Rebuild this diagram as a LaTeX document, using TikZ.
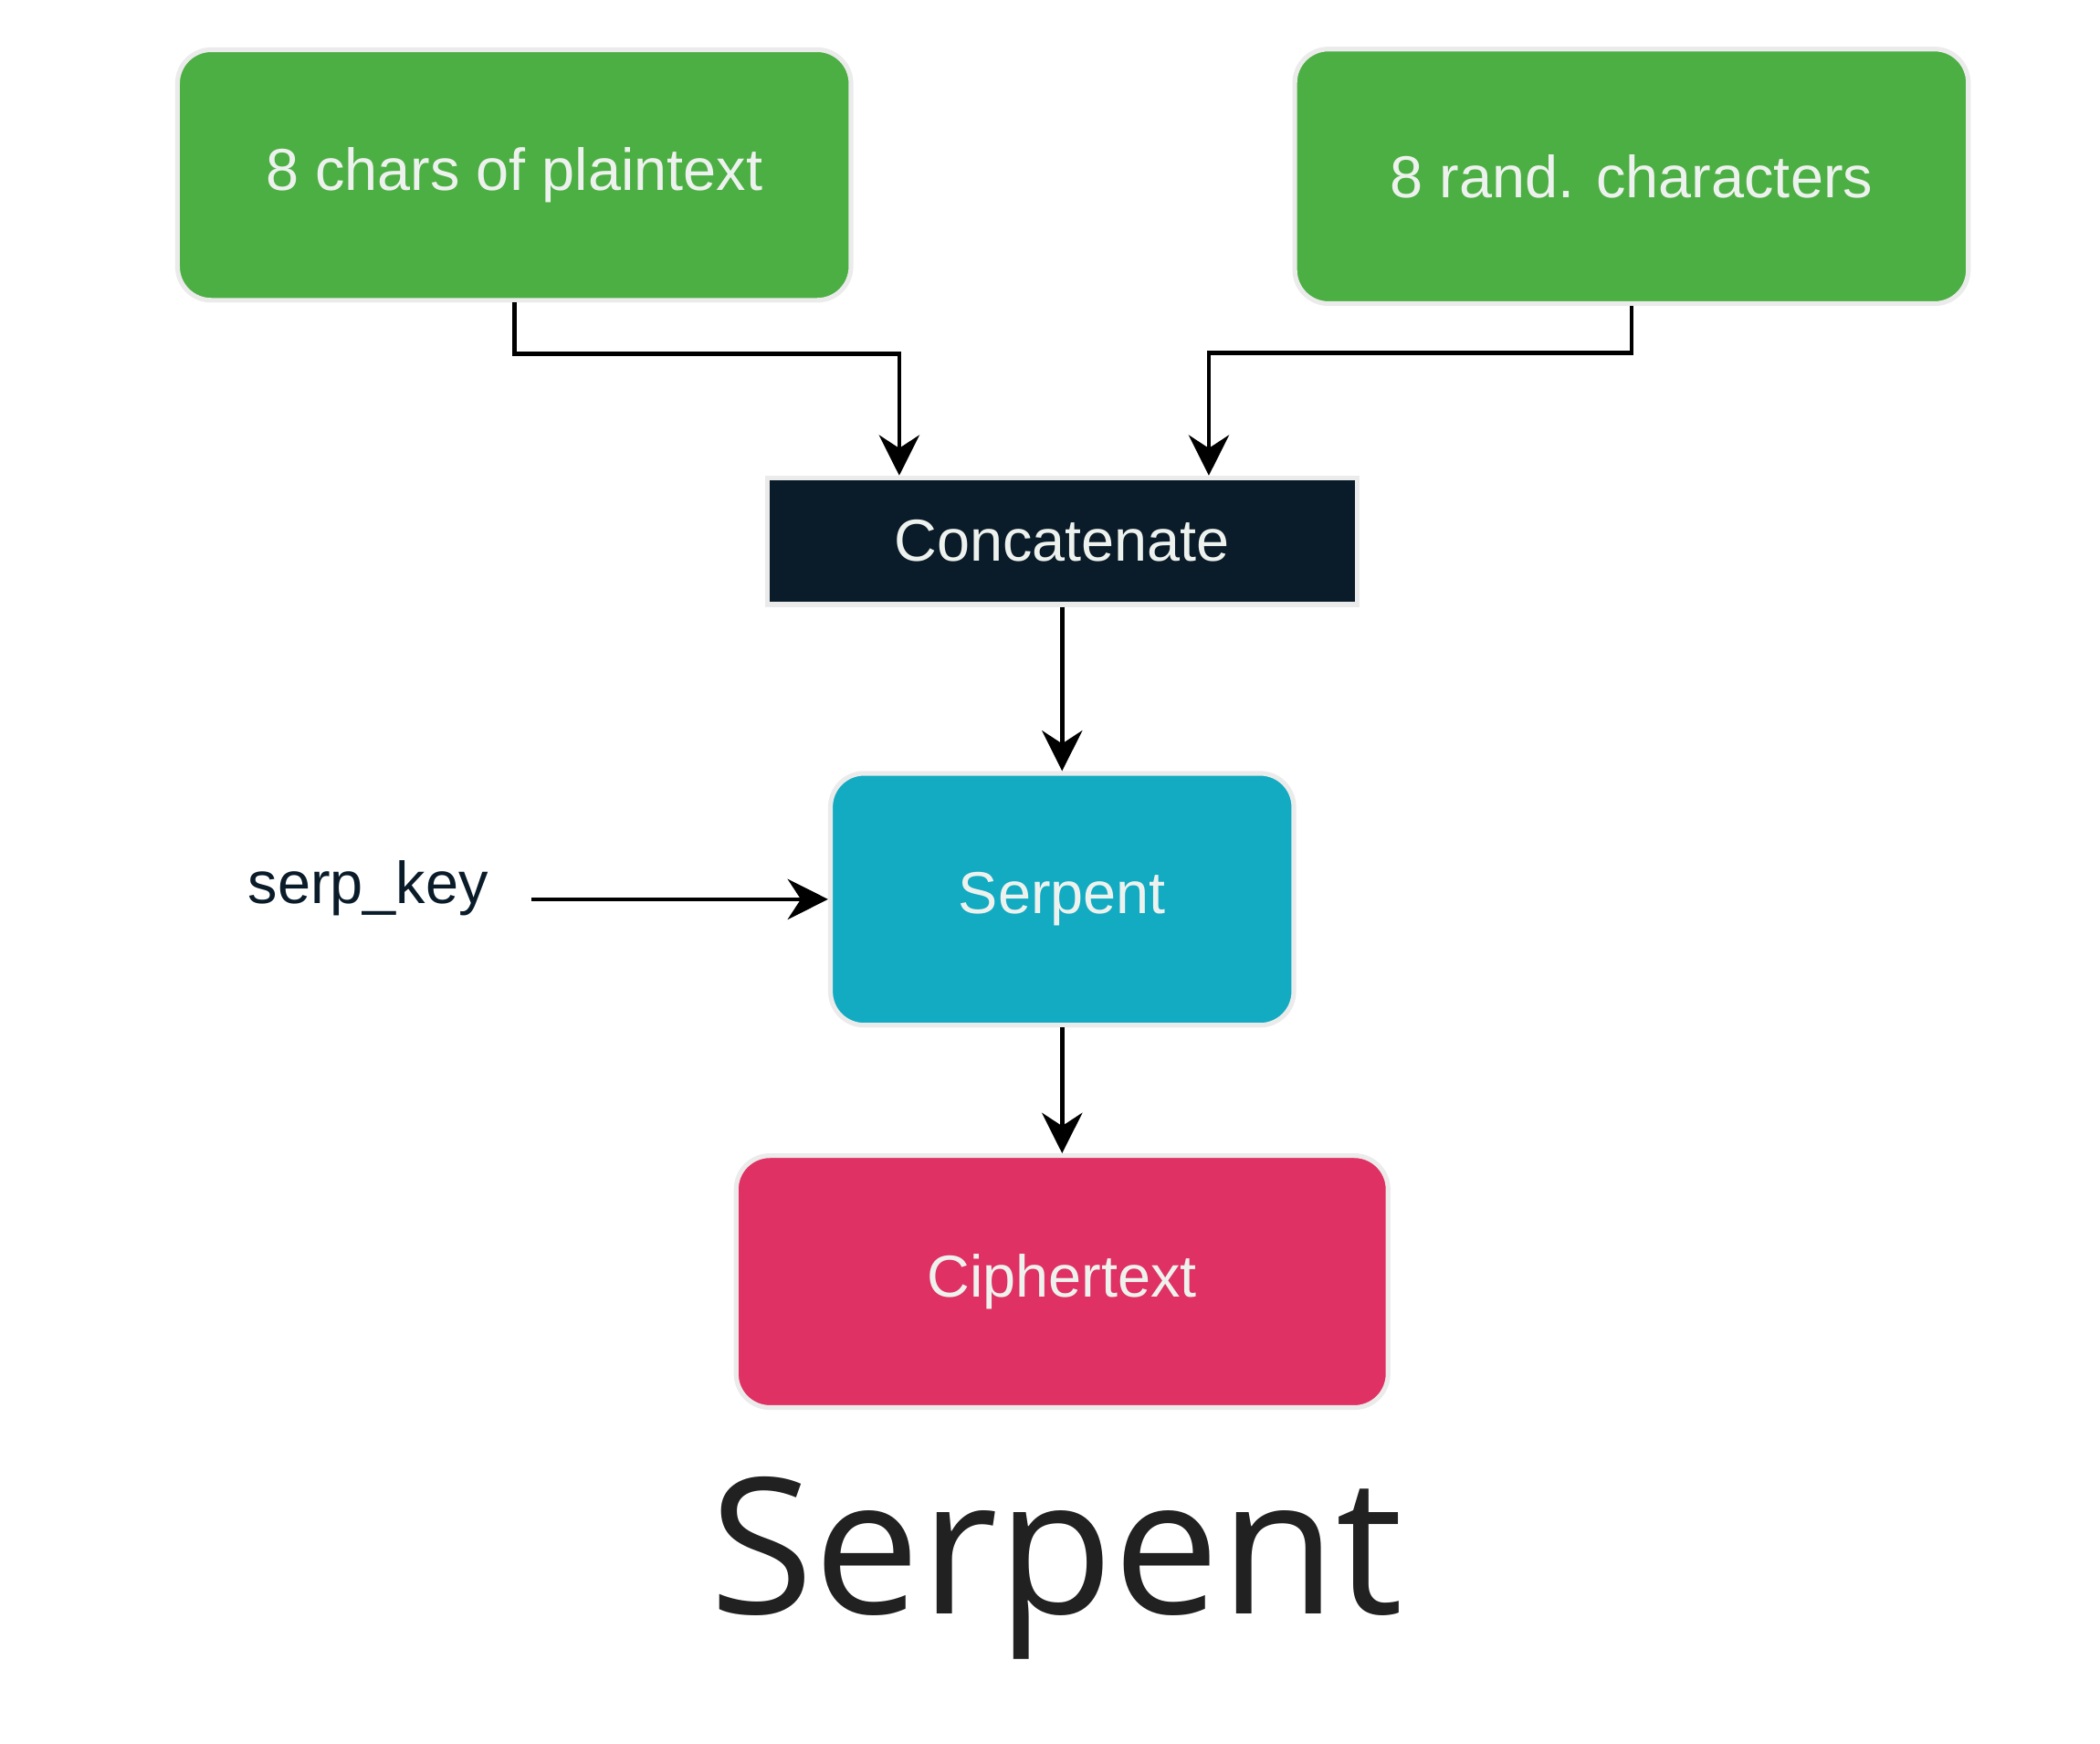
\documentclass[tikz,border=0pt]{standalone}
\usepackage{fontspec}
\setmainfont{Liberation Sans}
\newfontfamily\titlefont{Open Sans}
\usetikzlibrary{arrows.meta}
\definecolor{boxgreen}{HTML}{4CAF43}
\definecolor{boxcyan}{HTML}{12ABC2}
\definecolor{boxdark}{HTML}{0A1B29}
\definecolor{boxpink}{HTML}{DF3163}
\definecolor{boxtext}{HTML}{EEF2EE}
\definecolor{keytext}{HTML}{0A1B29}
\tikzset{
  box/.style={draw=black!8, line width=1pt, rounded corners=0.25cm, text=boxtext,
    font=\fontsize{12.5}{15}\selectfont, inner sep=0pt},
  flow/.style={-{Stealth[length=0.3cm,width=0.3cm]}, line width=0.9pt}
}
\begin{document}
\begin{tikzpicture}[x=0.01cm,y=-0.01cm]
\useasboundingbox (0,0) rectangle (1560,1295);

\node[box, fill=boxgreen, minimum width=5cm, minimum height=1.86cm] (plain) at (382,130) {8 chars of plaintext};
\node[box, fill=boxgreen, minimum width=5cm, minimum height=1.89cm] (rand) at (1212,131) {8 rand. characters};
\node[box, fill=boxdark, rounded corners=0, minimum width=4.38cm, minimum height=0.94cm] (concat) at (789,402) {Concatenate};
\node[box, fill=boxcyan, minimum width=3.44cm, minimum height=1.87cm] (serp) at (789,668) {Serpent};
\node[box, fill=boxpink, minimum width=4.84cm, minimum height=1.87cm] (cipher) at (789,952) {Ciphertext};
\node[text=keytext, font=\fontsize{12.5}{15}\selectfont, anchor=east] (key) at (375,660) {serp\_key};

\coordinate (keyend) at (395,668);
\draw[flow] (plain.south) -- ++(0,38) -| (concat.north -| 668,0);
\draw[flow] (rand.south) -- ++(0,35) -| (concat.north -| 898,0);
\draw[flow] (concat) -- (serp);
\draw[flow] (keyend) -- (serp.west);
\draw[flow] (serp) -- (cipher);

\node[text=black!87, font=\titlefont\fontsize{40}{48}\selectfont] (title) at (785,1165) {Serpent};
\end{tikzpicture}
\end{document}
